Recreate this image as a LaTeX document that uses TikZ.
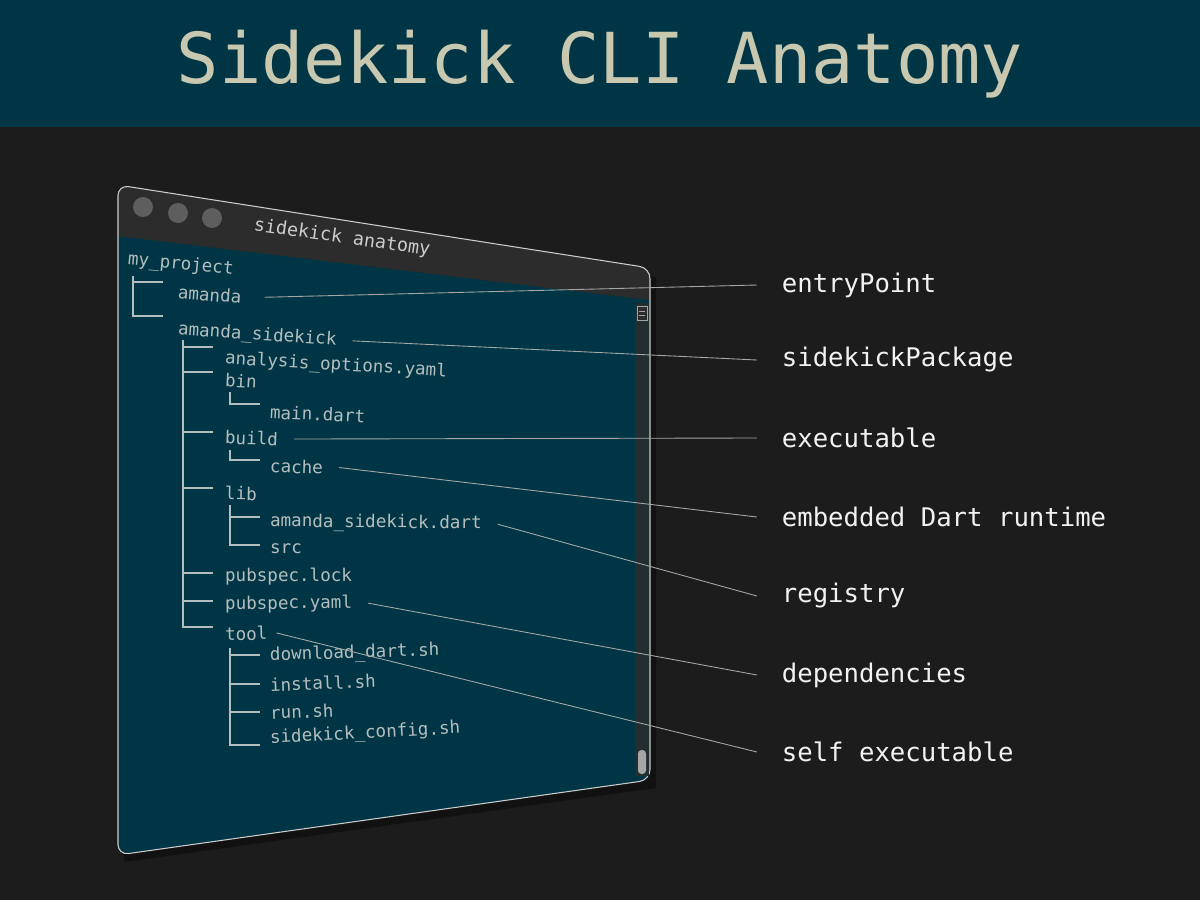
\documentclass[tikz,border=0pt]{standalone}
\usepackage{fontspec}
\setmonofont{DejaVu Sans Mono}
\definecolor{bg}{HTML}{1C1C1C}
\definecolor{teal}{HTML}{003545}
\definecolor{titlec}{HTML}{C8C8B0}
\definecolor{bar}{HTML}{2C2C2C}
\definecolor{treec}{HTML}{B4BEBE}
\tikzset{
 tree/.style={font=\ttfamily\fontsize{10}{12}\selectfont, text=treec, anchor=west, inner sep=1pt},
 lbl/.style={font=\ttfamily\fontsize{14.6}{17}\selectfont, text=white!90!gray, anchor=west, inner sep=2pt},
 conn/.style={draw=gray!70, line width=0.5pt},
 tline/.style={draw=treec, line width=1.1pt}
}
\newcommand\ti[4]{\node[tree,rotate={-5+(#3-260)*8/475}] (#1) at (#2,#3) {#4};}
\begin{document}
\begin{tikzpicture}[x=0.02cm,y=-0.02cm]
\fill[bg] (0,0) rectangle (1200,900);
\useasboundingbox (0,0) rectangle (1200,900);
\fill[teal] (0,0) rectangle (1200,127);
\node[font=\ttfamily\fontsize{40}{48}\selectfont, text=titlec] (title) at (600,64) {Sidekick CLI Anatomy};
% window
\fill[black!60!bg, opacity=0.6] (124,192) -- (656,277) -- (656,788) -- (124,862) -- cycle;
\fill[teal, rounded corners=6pt] (118,185) -- (650,268) -- (650,780) -- (118,855) -- cycle;
\fill[bar, rounded corners=6pt] (118,185) -- (650,268) -- (650,300) -- (118,236) -- cycle;
\fill[bar] (118,225) -- (650,290) -- (650,300) -- (118,236) -- cycle;
\draw[gray!40, line width=0.6pt, rounded corners=6pt] (118,185) -- (650,268) -- (650,780) -- (118,855) -- cycle;
\foreach \x/\y in {143/207,178/213,212/218} \fill[gray!60!bar] (\x,\y) circle (10);
\node[font=\ttfamily\fontsize{10.5}{12}\selectfont, text=gray!40, rotate=-8] (wtitle) at (342,238) {sidekick anatomy};
% scrollbar
\fill[bar!80!teal] (635,303) rectangle (649,776);
\draw[gray!70, fill=bar] (637,306) rectangle (647,320);
\draw[gray!70] (639,311) -- (645,311) (639,315) -- (645,315);
\fill[gray!70, rounded corners=2pt] (638,750) rectangle (646,774);
% tree text
\ti{p}{126}{260}{my\_project}
\ti{a}{176}{292}{amanda}
\ti{as}{176}{330}{amanda\_sidekick}
\ti{ao}{223}{359}{analysis\_options.yaml}
\ti{bin}{223}{380}{bin}
\ti{md}{268}{412}{main.dart}
\ti{bu}{223}{437}{build}
\ti{ca}{268}{466}{cache}
\ti{lib}{223}{493}{lib}
\ti{asd}{268}{522}{amanda\_sidekick.dart}
\ti{src}{268}{549}{src}
\ti{pl}{223}{577}{pubspec.lock}
\ti{py}{223}{605}{pubspec.yaml}
\ti{tool}{223}{634}{tool}
\ti{dd}{268}{656}{download\_dart.sh}
\ti{ins}{268}{685}{install.sh}
\ti{run}{268}{713}{run.sh}
\ti{sc}{268}{739}{sidekick\_config.sh}
% tree lines
\draw[tline] (133,276) -- (133,316) -- (163,316) (133,282) -- (163,282);
\draw[tline] (183,340) -- (183,627) -- (213,627);
\foreach \y in {347,372,432,488,573,601} \draw[tline] (183,\y) -- (213,\y);
\draw[tline] (230,392) -- (230,404) -- (260,404);
\draw[tline] (230,450) -- (230,460) -- (260,460);
\draw[tline] (230,505) -- (230,545) -- (260,545) (230,517) -- (260,517);
\draw[tline] (230,648) -- (230,745) -- (260,745);
\foreach \y in {655,684,712} \draw[tline] (230,\y) -- (260,\y);
% labels
\node[lbl] (l1) at (778,285) {entryPoint};
\node[lbl] (l2) at (778,360) {sidekickPackage};
\node[lbl] (l3) at (778,438) {executable};
\node[lbl] (l4) at (778,517) {embedded Dart runtime};
\node[lbl] (l5) at (778,596) {registry};
\node[lbl] (l6) at (778,675) {dependencies};
\node[lbl] (l7) at (778,752) {self executable};
\draw[conn] ([xshift=12]a.east) -- ([xshift=-12]l1.west);
\draw[conn] ([xshift=8]as.east) -- ([xshift=-12]l2.west);
\draw[conn] ([xshift=8]bu.east) -- ([xshift=-12]l3.west);
\draw[conn] ([xshift=8]ca.east) -- ([xshift=-12]l4.west);
\draw[conn] ([xshift=8]asd.east) -- ([xshift=-12]l5.west);
\draw[conn] ([xshift=8]py.east) -- ([xshift=-12]l6.west);
\draw[conn] ([xshift=4]tool.east) -- ([xshift=-12]l7.west);
\end{tikzpicture}
\end{document}
